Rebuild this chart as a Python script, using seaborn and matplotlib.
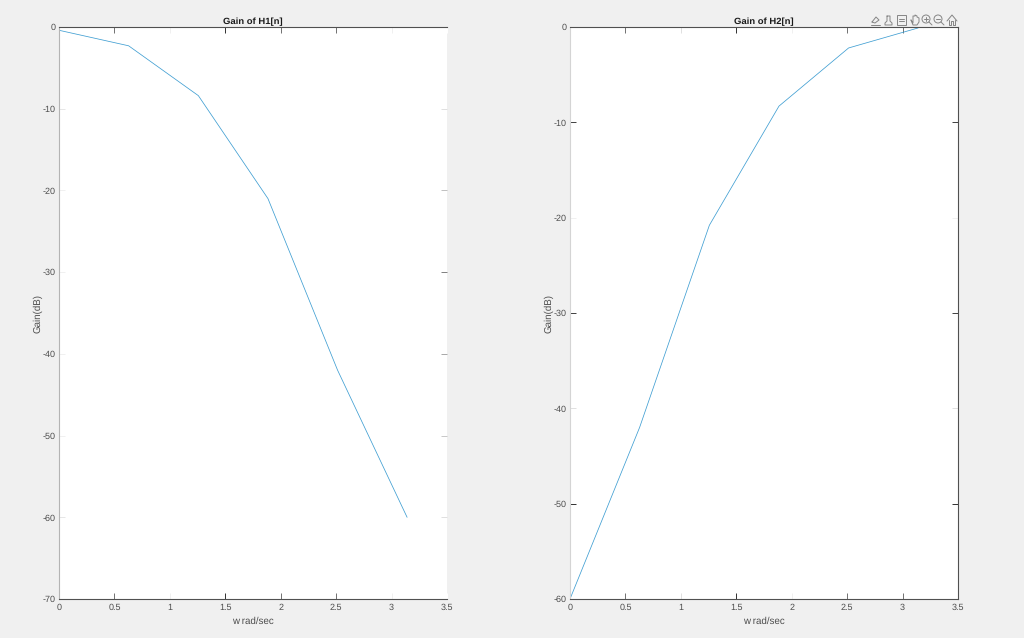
import pandas as pd
import matplotlib
matplotlib.use("Agg")
import matplotlib.pyplot as plt
from matplotlib.lines import Line2D
from matplotlib.patches import Circle, Rectangle
from matplotlib.transforms import IdentityTransform
import seaborn as sns

w = [0, 0.628, 1.257, 1.885, 2.513, 3.14]
gain_h1 = [-0.4, -2.3, -8.4, -21, -42, -60]
gain_h2 = [-60, -42, -20.8, -8.3, -2.2, -0.1]
xticks = [0, 0.5, 1, 1.5, 2, 2.5, 3, 3.5]
xlabels = ["0", "0.5", "1", "1.5", "2", "2.5", "3", "3.5"]
yticks_h1 = [0, -10, -20, -30, -40, -50, -60, -70]
yticks_h2 = [0, -10, -20, -30, -40, -50, -60]

#tick colours differ tick by tick in the screenshot (downscaling)
xtick_cols_h1 = ["#b4b4b4", "#707070", "#f0f0f0", "#303030", "#707070", "#707070", "#f0f0f0", "#ffffff"]
xtick_cols_h2 = ["#d4d4d4", "#707070", "#e0e0e0", "#303030", "#f0f0f0", "#707070", "#707070", "#505050"]
ytick_l_h1 = ["#505050", "#e6e6e6", "#f0f0f0", "#f0f0f0", "#f0f0f0", "#f0f0f0", "#e6e6e6", "#505050"]
ytick_r_h1 = ["#ffffff", "#e0e0e0", "#c0c0c0", "#808080", "#a8a8a8", "#c8c8c8", "#e0e0e0", "#ffffff"]
ytick_l_h2 = ["#505050", "#404040", "#f0f0f0", "#404040", "#e0e0e0", "#303030", "#505050"]
ytick_r_h2 = ["#505050", "#404040", "#f0f0f0", "#404040", "#e0e0e0", "#303030", "#505050"]

sns.set_theme(style="white")
plt.rcParams["font.family"] = ["Liberation Sans", "DejaVu Sans"]
plt.rcParams["text.hinting"] = "none"

df1 = pd.DataFrame({"w": w, "gain": gain_h1})
df2 = pd.DataFrame({"w": w, "gain": gain_h2})

fig = plt.figure(figsize=(10.24, 6.38), dpi=100, facecolor="#f0f0f0")
ax1 = fig.add_axes([59 / 1024, 1 - 599 / 638, 388 / 1024, 572 / 638])
ax2 = fig.add_axes([570 / 1024, 1 - 599 / 638, 388 / 1024, 572 / 638])

panels = [(ax1, df1, "Gain of H1[n]", yticks_h1, -70, xtick_cols_h1, ytick_l_h1, ytick_r_h1),
          (ax2, df2, "Gain of H2[n]", yticks_h2, -60, xtick_cols_h2, ytick_l_h2, ytick_r_h2)]

for ax, d, title, yt, ymin, xcols, ylcols, yrcols in panels:
    sns.lineplot(data=d, x="w", y="gain", ax=ax, color="#3f9ed2", linewidth=0.55, estimator=None)
    ax.set_xlim(0, 3.5)
    ax.set_ylim(ymin, 0)
    ax.set_xticks(xticks)
    ax.set_xticklabels(xlabels)
    ax.set_yticks(yt)
    ax.set_yticklabels([str(v) for v in yt])
    ax.tick_params(direction="in", length=4, width=0.7, labelcolor="#4d4d4d", labelsize=6.5,
                   top=True, right=True, bottom=True, left=True)
    ax.tick_params(axis="x", pad=3.5)
    ax.tick_params(axis="y", pad=2.5)
    #tick lines are markers, so the edge colour is what shows
    for t, c in zip(ax.xaxis.get_major_ticks(), xcols):
        t.tick1line.set_markeredgecolor(c)
        t.tick2line.set_markeredgecolor(c)
    for t, cl, cr in zip(ax.yaxis.get_major_ticks(), ylcols, yrcols):
        t.tick1line.set_markeredgecolor(cl)
        t.tick2line.set_markeredgecolor(cr)
    ax.set_xlabel("w rad/sec", fontsize=7, color="#4d4d4d", labelpad=3)
    ax.set_ylabel("Gain(dB)", fontsize=7, color="#4d4d4d")
    ax.yaxis.set_label_coords(-16 / 388, 0.5)
    ax.set_title(title, fontsize=6.8, fontweight="bold", color="#1a1a1a", pad=2)
    for s in ax.spines.values():
        s.set_visible(True)
        s.set_color("#505050")
        s.set_linewidth(0.8)

ax1.spines["left"].set_color("#b4b4b4")
ax1.spines["right"].set_visible(False)
ax2.spines["left"].set_color("#d4d4d4")


#figure toolbar icons, in image pixels
def tool_line(xs, ys):
    fig.add_artist(Line2D(xs, [638 - y for y in ys], color="#858585", linewidth=0.7,
                          transform=IdentityTransform()))


def tool_circle(x, y, r):
    fig.add_artist(Circle((x, 638 - y), r, fill=False, edgecolor="#858585", linewidth=0.7,
                          transform=IdentityTransform()))


tool_line([872, 876, 879, 875, 872], [22, 17, 20, 23, 22])
tool_line([871, 880], [25, 25])
tool_line([887, 890, 890, 892, 892, 885, 885, 887, 887], [16, 16, 21, 23, 25, 25, 23, 21, 16])
fig.add_artist(Rectangle((897, 638 - 25), 9, 10, fill=False, edgecolor="#858585", linewidth=0.7,
                         transform=IdentityTransform()))
tool_line([899, 904], [19, 19])
tool_line([899, 904], [21, 21])
tool_line([911, 913, 913, 915, 915, 917, 917, 919, 919, 917, 913, 911],
          [20, 23, 16, 16, 15, 16, 17, 18, 22, 25, 25, 20])
tool_circle(926, 19, 4)
tool_line([929, 932], [22, 25])
tool_line([924, 928], [19, 19])
tool_line([926, 926], [17, 21])
tool_circle(938, 19, 4)
tool_line([941, 944], [22, 25])
tool_line([936, 940], [19, 19])
tool_line([947, 952, 957], [21, 15, 21])
tool_line([949, 949, 951, 951, 953, 953, 955, 955], [20, 25, 25, 21, 21, 25, 25, 20])

plt.savefig("out.png", dpi=100, facecolor=fig.get_facecolor())
